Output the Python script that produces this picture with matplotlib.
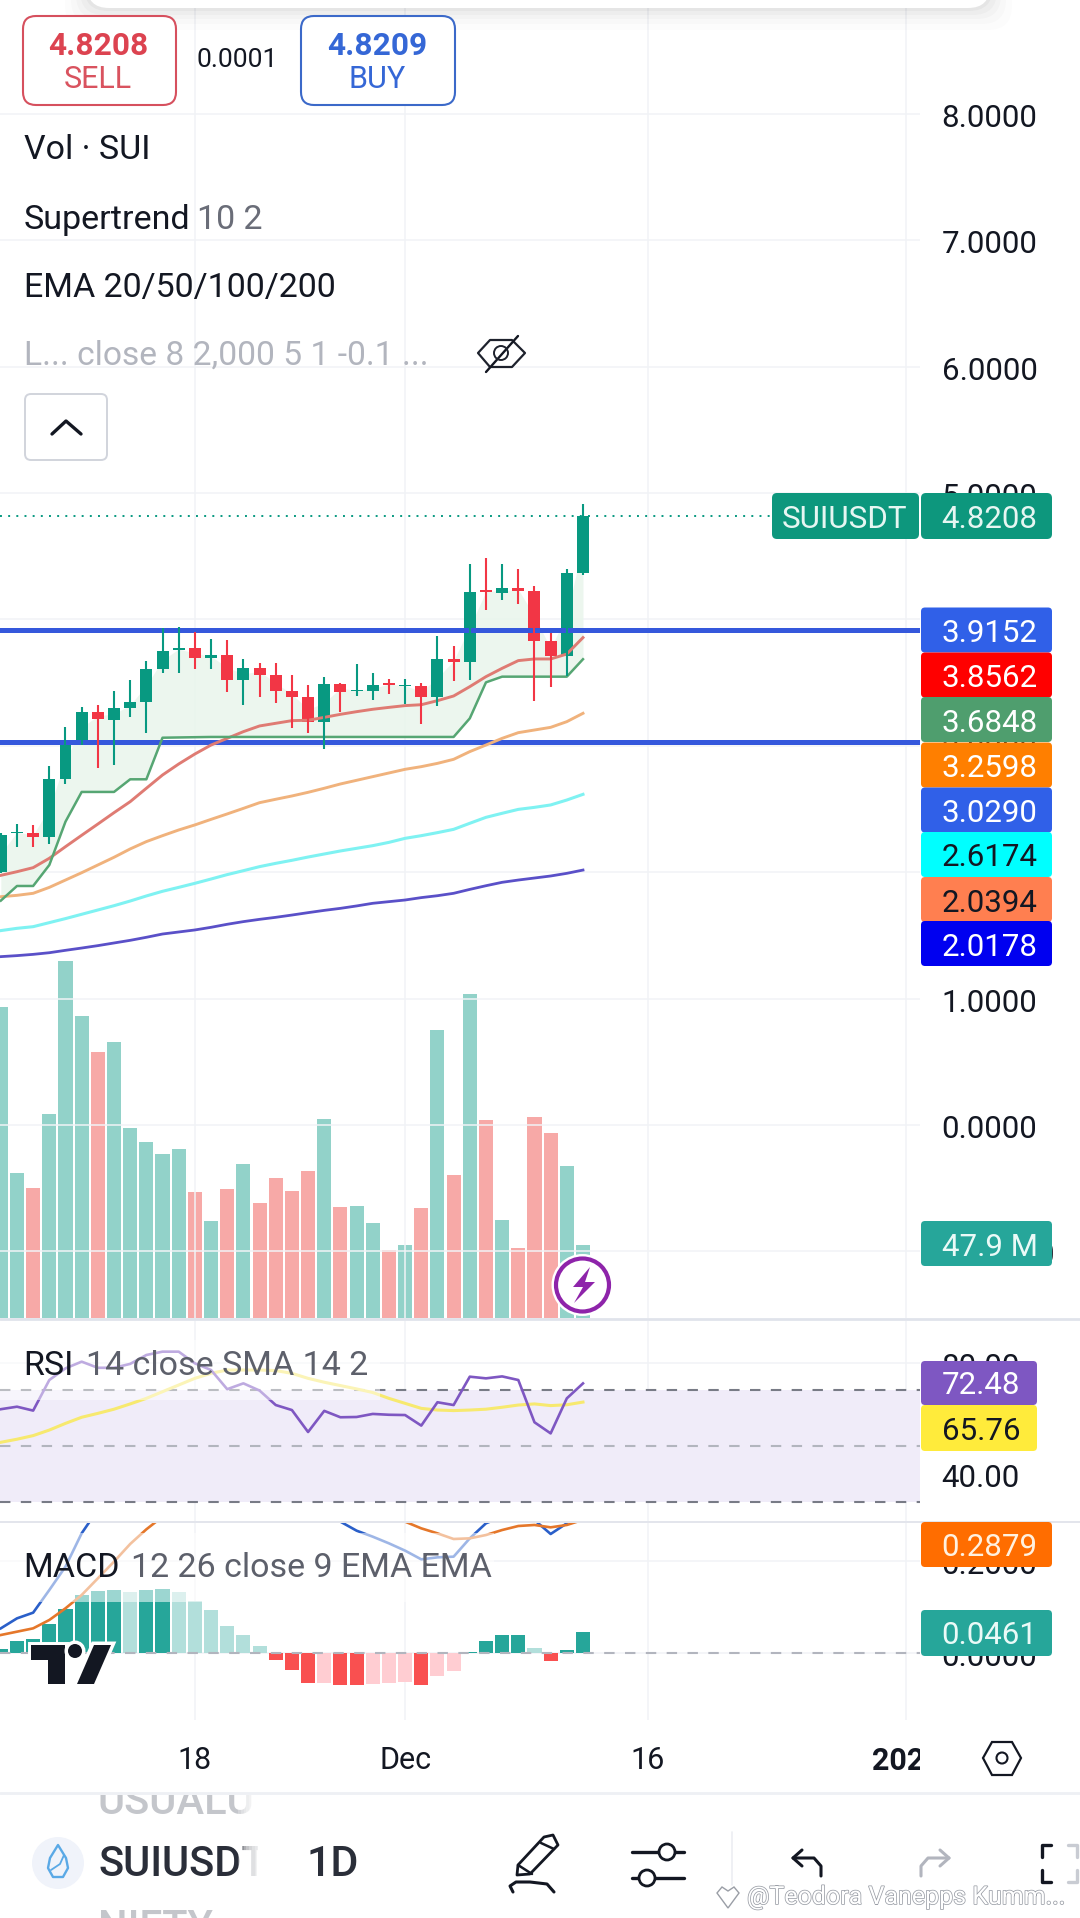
import numpy as np
import matplotlib
matplotlib.use("Agg")
import matplotlib.pyplot as plt
import matplotlib.patheffects as pe
from matplotlib.patches import FancyBboxPatch, Rectangle, Polygon, Circle
from matplotlib.ticker import FixedLocator, FuncFormatter
from matplotlib.transforms import Bbox, IdentityTransform, ScaledTranslation, TransformedBbox

plt.rcParams['font.family'] = ['Roboto', 'DejaVu Sans']

# daily candles, values
opens = [2.004, 2.308, 2.313, 2.276, 2.737, 3.020, 3.267, 3.204, 3.297, 3.347, 3.605, 3.758, 3.774,
         3.695, 3.718, 3.521, 3.618, 3.560, 3.434, 3.386, 3.191, 3.489, 3.431, 3.431, 3.494, 3.470,
         3.473, 3.386, 3.687, 3.660, 4.230, 4.206, 4.251, 4.225, 3.832, 3.710, 4.364]
highs = [2.308, 2.381, 2.374, 2.840, 3.151, 3.310, 3.323, 3.436, 3.521, 3.671, 3.935, 3.940, 3.903,
         3.848, 3.837, 3.687, 3.652, 3.658, 3.560, 3.481, 3.542, 3.494, 3.647, 3.579, 3.528, 3.528,
         3.494, 3.871, 3.792, 4.441, 4.488, 4.441, 4.396, 4.264, 3.890, 4.401, 4.910]
lows = [1.991, 2.202, 2.202, 2.223, 2.698, 3.006, 2.822, 2.845, 3.225, 3.099, 3.579, 3.573, 3.605,
        3.605, 3.426, 3.320, 3.389, 3.336, 3.138, 3.099, 2.972, 3.270, 3.394, 3.362, 3.410, 3.331,
        3.172, 3.318, 3.515, 3.521, 4.074, 4.153, 4.119, 3.354, 3.463, 3.552, 4.349]
closes = [2.294, 2.321, 2.276, 2.737, 3.033, 3.270, 3.209, 3.299, 3.349, 3.608, 3.750, 3.774, 3.692,
          3.721, 3.521, 3.618, 3.560, 3.434, 3.383, 3.191, 3.489, 3.423, 3.444, 3.478, 3.481, 3.484,
          3.386, 3.687, 3.660, 4.219, 4.214, 4.248, 4.222, 3.827, 3.710, 4.367, 4.8208]

ema20 = [1.975, 2.004, 2.036, 2.110, 2.202, 2.292, 2.381, 2.471, 2.558, 2.664, 2.769, 2.856, 2.935,
         3.006, 3.059, 3.112, 3.157, 3.178, 3.199, 3.202, 3.225, 3.249, 3.270, 3.289, 3.304, 3.318,
         3.325, 3.357, 3.394, 3.468, 3.547, 3.613, 3.674, 3.687, 3.687, 3.726, 3.856]
ema50 = [1.806, 1.817, 1.833, 1.880, 1.938, 1.996, 2.057, 2.118, 2.184, 2.242, 2.289, 2.334, 2.374,
         2.418, 2.461, 2.505, 2.550, 2.577, 2.603, 2.632, 2.664, 2.698, 2.727, 2.756, 2.785, 2.814,
         2.835, 2.861, 2.893, 2.954, 3.006, 3.059, 3.104, 3.125, 3.146, 3.191, 3.257]
ema100 = [1.538, 1.556, 1.569, 1.601, 1.633, 1.667, 1.701, 1.735, 1.772, 1.812, 1.849, 1.880, 1.912,
          1.946, 1.981, 2.012, 2.044, 2.070, 2.094, 2.120, 2.144, 2.168, 2.189, 2.210, 2.236, 2.268,
          2.289, 2.313, 2.339, 2.387, 2.434, 2.466, 2.497, 2.513, 2.532, 2.571, 2.616]
ema200 = [1.332, 1.340, 1.350, 1.363, 1.382, 1.400, 1.419, 1.440, 1.461, 1.485, 1.511, 1.527, 1.543,
          1.564, 1.588, 1.609, 1.627, 1.643, 1.661, 1.680, 1.698, 1.714, 1.733, 1.754, 1.767, 1.780,
          1.799, 1.814, 1.833, 1.864, 1.893, 1.920, 1.938, 1.954, 1.970, 1.991, 2.017]
supertrend = [1.775, 1.891, 1.891, 2.057, 2.400, 2.635, 2.635, 2.635, 2.735, 2.735, 3.064, 3.066, 3.068,
              3.070, 3.070, 3.070, 3.070, 3.070, 3.070, 3.070, 3.070, 3.070, 3.070, 3.070, 3.070, 3.070,
              3.070, 3.070, 3.070, 3.217, 3.502, 3.547, 3.547, 3.547, 3.547, 3.547, 3.685]
levels = [3.9152, 3.0290]

volume = [203.1, 94.7, 84.9, 133.2, 233.2, 197.2, 173.7, 180.3, 124.1, 114.9, 107.1, 110.4, 82.3,
          63.6, 84.2, 100.8, 75.1, 91.4, 82.9, 96.2, 130.0, 72.5, 73.1, 62.0, 44.4, 47.7,
          71.8, 188.1, 93.4, 211.6, 129.3, 64.0, 45.7, 131.3, 120.8, 99.3, 47.9]

rsi = [63.2, 64.1, 62.7, 73.7, 77.9, 80.3, 78.1, 78.1, 79.5, 82.7, 83.9, 83.9, 79.7,
       77.3, 70.4, 72.5, 69.9, 64.7, 62.9, 55.0, 62.6, 60.3, 60.4, 61.5, 61.2, 61.1,
       57.3, 65.7, 64.7, 74.9, 74.3, 75.0, 73.7, 58.5, 54.5, 67.1, 72.48]
rsi_sma = [51.3, 52.4, 53.7, 55.7, 58.1, 60.3, 61.7, 63.2, 65.1, 67.1, 69.5, 71.9, 74.3,
           76.1, 77.3, 77.3, 77.3, 77.1, 76.1, 74.3, 72.9, 71.7, 70.5, 69.2, 67.1, 65.3,
           63.5, 62.9, 62.7, 62.9, 63.2, 63.9, 64.7, 65.1, 64.5, 64.8, 65.76]

macd = [.0533, .0749, .0872, .1362, .1867, .2588, .31, .34, .37, .40, .42, .43, .43,
        .42, .40, .385, .37, .35, .33, .31, .29, .284, .2645, .2515, .2371, .2213,
        .2025, .2068, .2083, .2479, .2804, .2948, .2984, .2876, .2573, .2804, .334]
signal = [.0389, .0461, .0533, .0714, .0966, .1254, .1614, .1975, .2357, .2674, .2948, .32, .34,
          .355, .365, .37, .37, .365, .36, .35, .34, .33, .32, .31, .295, .2840,
          .2695, .2587, .2465, .2479, .2551, .2659, .2746, .2768, .2717, .2768, .2879]
hist = [.0086, .0252, .0310, .0627, .0951, .1247, .1333, .1355, .1312, .1355, .1384, .1312, .1117,
        .0923, .0577, .0382, .0144, -.0144, -.0375, -.0649, -.0640, -.0685, -.0699, -.0663, -.0649, -.0627,
        -.0685, -.0505, -.0396, .0022, .0252, .0382, .0396, .0115, -.0180, .0058, .0461]

price_ticks = [-1, 0, 1, 2, 3, 4, 5, 6, 7, 8]
time_ticks = [12, 25, 40, 56]
time_labels = ['18', 'Dec', '16', '2025']
rsi_ticks = [40, 80]
macd_ticks = [0.0, 0.2]

price_tags = ['3.9152', '3.8562', '3.6848', '3.2598', '3.0290', '2.6174', '2.0394', '2.0178']
tag_colors = ['#3060e8', '#ff0000', '#4f9e6e', '#ff7f00', '#3060e8', '#00ffff', '#ff7f50', '#0000f0']
tag_text = ['white', 'white', 'white', 'white', 'white', '#131722', '#131722', 'white']

W, H = 1080, 1918
GREEN, RED = '#089981', '#f23645'
GRID = '#f1f3f6'
TAG_X = 941.5
x = np.arange(len(closes))
opens, closes, highs, lows, hist = map(np.array, (opens, closes, highs, lows, hist))

fig = plt.figure(figsize=(W / 100, H / 100), dpi=100, facecolor='white')


def pane(top, bottom, right=920, z=1):
    ax = fig.add_axes([0, 1 - bottom / H, right / W, (bottom - top) / H], zorder=z)
    ax.patch.set_visible(False)
    for s in ax.spines.values():
        s.set_visible(False)
    ax.set_xlim(-0.05, 56.84)
    ax.set_xticks(time_ticks)
    ax.tick_params(axis='both', length=0, labelbottom=False, labelleft=False)
    ax.grid(True, color=GRID, lw=1.1)
    ax.set_axisbelow(True)
    return ax


def right_labels(ax, ticks, fmt):
    ax.yaxis.set_major_locator(FixedLocator(ticks))
    ax.yaxis.set_major_formatter(FuncFormatter(lambda v, _: fmt.format(v).replace('-', '\u2212')))
    ax.tick_params(axis='y', labelright=True, pad=15.5, labelsize=22.5, labelcolor='#131722')
    nudge = ScaledTranslation(0, -1.5 / 100, fig.dpi_scale_trans)
    for tick in ax.yaxis.get_major_ticks():
        tick.label2.set_transform(tick.label2.get_transform() + nudge)


# volume sits under the price pane, same pixel height
ax_vol = pane(8, 1318, z=1)
ax_vol.set_ylim(0, 1310 * 0.653)
ax_vol.set_yticks([])
ax_vol.grid(False)
ax_vol.bar(x, volume, width=0.87, lw=0,
           color=['#92d2c9' if c >= o else '#f7a9a7' for o, c in zip(opens, closes)])

ax = pane(8, 1318, z=2)
ax.set_ylim((1125 - 1318) / 126.4, (1125 - 8) / 126.4)
right_labels(ax, price_ticks, '{:.4f}')
ax.fill_between(x, supertrend, (opens + closes) / 2, color='#e9f5ec', alpha=0.85, lw=0)
for lev in levels:
    ax.axhline(lev, color='#3558dc', lw=3.6)
ax.axhline(closes[-1], color=GREEN, lw=1.4, ls=(0, (1, 3.2)))
ax.plot(x, ema200, color='#5a50c8', lw=2.0)
ax.plot(x, ema100, color='#7ff2f2', lw=2.2)
ax.plot(x, ema50, color='#f0b27c', lw=2.1)
ax.plot(x, ema20, color='#df7b73', lw=2.1)
ax.plot(x, supertrend, color='#56a673', lw=1.8)
candle_colors = [GREEN if c >= o else RED for o, c in zip(opens, closes)]
ax.vlines(x, lows, highs, colors=candle_colors, lw=1.5)
ax.bar(x, np.abs(closes - opens), bottom=np.minimum(opens, closes), width=0.74, color=candle_colors, lw=0)

ax_rsi = pane(1321, 1521, z=2)
ax_rsi.set_ylim(80 - (1521 - 1362.5) / 2.78, 80 + (1362.5 - 1321) / 2.78)
right_labels(ax_rsi, rsi_ticks, '{:.2f}')
ax_rsi.axhspan(30, 70, color='#f0ecf9', lw=0)
ax_rsi.axhline(70, color='#787b86', lw=1.5, ls=(0, (5, 5)))
ax_rsi.axhline(50, color='#b2b5be', lw=1.5, ls=(0, (5, 5)))
ax_rsi.axhline(30, color='#787b86', lw=1.5, ls=(0, (5, 5)))
ax_rsi.plot(x, rsi_sma, color='#f7e96f', lw=2.2)
ax_rsi.plot(x, rsi, color='#7e57c2', lw=1.9)

ax_macd = pane(1523, 1720, z=2)
ax_macd.set_ylim((1653 - 1720) / 462.5, (1653 - 1523) / 462.5)
right_labels(ax_macd, macd_ticks, '{:.4f}')
ax_macd.axhline(0, color='#b2b5be', lw=1.5, ls=(0, (5, 5)))
hist_colors = []
for i, h in enumerate(hist):
    rising = i == 0 or h > hist[i - 1]
    if h >= 0:
        hist_colors.append('#26a69a' if rising else '#b2dfdb')
    else:
        hist_colors.append('#ffcdd2' if rising else '#f95050')
ax_macd.bar(x, hist, width=0.87, color=hist_colors, lw=0)
ax_macd.plot(x, macd, color='#2a5fc9', lw=1.9)
ax_macd.plot(x, signal, color='#e5772a', lw=1.9)

# time axis labels hang off the macd pane
ax_macd.set_xticklabels(time_labels)
ax_macd.tick_params(axis='x', labelbottom=True, pad=18.5, labelsize=22, labelcolor='#131722')
clip = TransformedBbox(Bbox([[0, 0], [920, H]]), IdentityTransform())
last_label = ax_macd.get_xticklabels()[-1]
last_label.set_fontweight('bold')
last_label.set_clip_on(True)
last_label.set_clip_box(clip)

# everything that is app chrome goes on a pixel overlay
ov = fig.add_axes([0, 0, 1, 1], zorder=10)
ov.set_xlim(0, W)
ov.set_ylim(H, 0)
ov.axis('off')


def box(x0, y0, x1, y1, r=6, fc='none', ec='none', lw=0, z=3, alpha=None):
    p = FancyBboxPatch((x0 + r, y0 + r), x1 - x0 - 2 * r, y1 - y0 - 2 * r,
                       boxstyle=f'round,pad={r},rounding_size={r}',
                       fc=fc, ec=ec, lw=lw, zorder=z, alpha=alpha)
    ov.add_patch(p)
    return p


def label(px, py, s, size, color='#131722', ha='left', z=6, **kw):
    # va center sits a bit high for digits and capitals
    return ov.text(px, py + 3, s, fontsize=size, color=color, ha=ha, va='center', zorder=z, **kw)


def line(xs, ys, color='#131722', lw=2.0, z=6):
    ov.plot(xs, ys, color=color, lw=lw, zorder=z, solid_capstyle='round', solid_joinstyle='round')


def fade(x0, x1, y0, y1, steps=8):
    for i in range(steps):
        left = x0 + (x1 - x0) * i / steps
        ov.add_patch(Rectangle((left, y0), x1 - left, y1 - y0, fc='white', ec='none', alpha=0.28, zorder=7))


# washed out bands behind the indicator legends
ov.add_patch(Rectangle((0, 1340), 380, 60, fc='white', ec='none', alpha=0.5, zorder=2))
ov.add_patch(Rectangle((0, 1533), 494, 69, fc='white', ec='none', alpha=0.55, zorder=2))

# top sheet with its shadow
for grow, a in [(22, 0.012), (16, 0.014), (11, 0.018), (7, 0.022), (3, 0.03)]:
    box(87 - grow, -40, 990 + grow, 8 + grow, r=24, fc='black', alpha=a, z=1)
box(87, -40, 990, 8, r=22, fc='white', z=2)

# sell / buy
box(23, 16, 176, 105, r=13, fc='white', ec='#d6505e', lw=1.5)
label(98, 43, '4.8208', 22.8, '#dc4350', ha='center', fontweight='bold')
label(98, 77, 'SELL', 22, '#d9535f', ha='center')
label(237, 57, '0.0001', 19, ha='center')
box(301, 16, 455, 105, r=13, fc='white', ec='#3b69c9', lw=1.5)
label(377, 43, '4.8209', 22.8, '#3567d6', ha='center', fontweight='bold')
label(377, 77, 'BUY', 22, '#3567d6', ha='center')

# indicator legend
label(23.5, 147, 'Vol \u00b7 SUI', 24.5)
label(23.5, 217, 'Supertrend', 24.5)
label(197, 217, '10 2', 24.5, '#6a6d78')
label(23.5, 285, 'EMA 20/50/100/200', 24.5)
label(23.5, 353, 'L... close 8 2,000 5 1 -0.1 ...', 24.2, '#b2b5be')
label(23.5, 1363, 'RSI', 24.5)
label(86, 1363, '14 close SMA 14 2', 24.5, '#5d606b')
label(23.5, 1565, 'MACD', 24.5)
label(131, 1565, '12 26 close 9 EMA EMA', 24.5, '#5d606b')

# hidden eye icon
ov.add_patch(Polygon([(478, 353), (490, 340), (512, 340), (525, 353), (512, 367), (490, 367)], closed=True,
                     fc='none', ec='#1e222d', lw=1.6, zorder=6, joinstyle='round'))
line([486, 518], [372, 336], lw=1.7)
ov.add_patch(Circle((501, 353), 7, fc='none', ec='#1e222d', lw=1.4, zorder=6))

# collapse button
box(25, 394, 107, 460, r=6, fc='white', ec='#d1d4dc', lw=1.4)
line([52, 66, 81], [434, 421, 434], lw=2.4)

# price tags
box(772, 493, 919, 539, r=5, fc='#0d977d')
box(921, 493, 1052, 539, r=5, fc='#0d977d')
label(782, 516, 'SUIUSDT', 22.6, '#e6f6f2')
label(TAG_X, 517, '4.8208', 22.5, '#e6f6f2')
tag_tops = [607.5, 652.5, 697, 742.5, 787.5, 832, 877, 921]
for top, s, fc, tc in zip(tag_tops, price_tags, tag_colors, tag_text):
    box(921, top, 1052, top + 45, r=4, fc=fc)
    label(TAG_X, top + 23, s, 22.5, tc)
box(921, 1221, 1052, 1266, r=4, fc='#26a69a')
label(TAG_X, 1244, '47.9 M', 22.5, '#eafaf7')
box(921, 1361, 1037, 1405, r=4, fc='#7e57c2')
label(TAG_X, 1383, '72.48', 22.5, 'white')
box(921, 1405, 1037, 1451, r=4, fc='#ffeb3b')
label(TAG_X, 1428, '65.76', 22.5, '#131722')
box(921, 1522, 1052, 1567, r=4, fc='#ff6d00')
label(TAG_X, 1545, '0.2879', 22.5, '#fff1e0')
box(921, 1610, 1052, 1656, r=4, fc='#26a69a')
label(TAG_X, 1633, '0.0461', 22.5, '#eafaf7')

# pane separators
line([0, W], [1319, 1319], '#e0e3eb', 2.0, z=1)
line([0, W], [1522, 1522], '#e0e3eb', 1.3, z=1)
line([0, W], [1793, 1793], '#eef0f4', 2.0, z=1)

# lightning badge
ov.add_patch(Circle((582.5, 1285), 31, fc='white', ec='none', zorder=5))
ov.add_patch(Circle((582.5, 1285), 26.5, fc='white', ec='#8e24aa', lw=3.0, zorder=5))
ov.add_patch(Polygon([(590, 1267), (573, 1287), (583, 1287), (574, 1303), (595, 1282), (585, 1282)],
                     closed=True, fc='#8e24aa', ec='none', zorder=6))

# tradingview mark
logo = [Polygon([(31, 1645), (65, 1645), (65, 1684), (48, 1684), (48, 1660), (31, 1660)], closed=True),
        Circle((75, 1651), 7),
        Polygon([(94, 1645), (111, 1645), (94, 1684), (77, 1684)], closed=True)]
for p in logo:
    p.set(fc='#131722', ec='none', zorder=6, path_effects=[pe.withStroke(linewidth=5, foreground='white')])
    ov.add_patch(p)

# hexagon settings icon
ov.add_patch(Polygon([(983, 1758), (992, 1742), (1012, 1742), (1021, 1758), (1012, 1775), (992, 1775)],
                     closed=True, fc='none', ec='#131722', lw=1.6, zorder=6))
ov.add_patch(Circle((1002, 1758), 5.5, fc='none', ec='#131722', lw=1.5, zorder=6))

# bottom bar
name_clip = Rectangle((0, 1795), 258, 123, transform=ov.transData)
for py, s, c in [(1800, 'USUALU', '#c4c6cb'), (1862, 'SUIUSDT', '#2a2e39'), (1926, 'NIFTY', '#c4c6cb')]:
    t = label(98, py, s, 30, c, fontweight='medium')
    t.set_clip_on(True)
    t.set_clip_path(name_clip)
fade(238, 260, 1795, 1918)
label(333, 1862, '1D', 31, '#2a2e39', ha='center', fontweight='medium')

ov.add_patch(Circle((58, 1863), 26, fc='#f0f3fa', ec='none', zorder=3))
ov.add_patch(Polygon([(58, 1845), (66, 1858), (68, 1868), (63, 1877), (53, 1877), (48, 1868), (50, 1858)],
                     closed=True, fc='none', ec='#5aa9e6', lw=1.7, zorder=6, joinstyle='round'))
line([51, 60, 64], [1870, 1864, 1855], '#5aa9e6', 1.3)

# pencil
ov.add_patch(Polygon([(544, 1837), (553, 1835), (558, 1845), (530, 1874), (517, 1875), (518, 1865)],
                     closed=True, fc='none', ec='#131722', lw=2.0, zorder=6, joinstyle='round'))
line([518, 532], [1865, 1874], lw=1.8)
line([541, 554], [1843, 1849], lw=1.8)
line([513, 510, 516, 530, 547, 554], [1892, 1886, 1882, 1882, 1884, 1892], lw=2.2)

# sliders
line([632, 684], [1852, 1852], lw=2.4)
line([632, 684], [1878, 1878], lw=2.4)
ov.add_patch(Circle((667, 1852), 8, fc='white', ec='#131722', lw=2.0, zorder=7))
ov.add_patch(Circle((647, 1878), 8, fc='white', ec='#131722', lw=2.0, zorder=7))
line([732, 732], [1832, 1885], '#eceef2', 1.2)

# undo, redo, fullscreen
line([821, 821, 814, 793], [1876, 1866, 1858, 1858], lw=2.2)
line([802, 793, 802], [1850, 1858, 1866], lw=2.2)
line([921, 921, 928, 949], [1876, 1866, 1858, 1858], '#b2b5be', 2.2)
line([940, 949, 940], [1850, 1858, 1866], '#b2b5be', 2.2)
for xs, ys in [([1051, 1042, 1042], [1845, 1845, 1857]), ([1042, 1042, 1051], [1870, 1882, 1882])]:
    line(xs, ys, lw=2.4)
for xs, ys in [([1068, 1077, 1077], [1845, 1845, 1857]), ([1077, 1077, 1068], [1870, 1882, 1882])]:
    line(xs, ys, '#c9ccd3', 2.4)

# watermark
stroke = [pe.withStroke(linewidth=1.1, foreground='#9a9ea6')]
ov.text(747, 1897, '@Teodora Vanepps Kumm...', fontsize=18, color='white', va='center', zorder=8,
        path_effects=stroke)
ov.add_patch(Polygon([(717, 1893), (722, 1887), (728, 1891), (734, 1887), (739, 1893), (728, 1908)], closed=True,
                     fc='white', ec='#9a9ea6', lw=1.0, zorder=8))

fig.savefig('out.png', dpi=100, facecolor='white')
